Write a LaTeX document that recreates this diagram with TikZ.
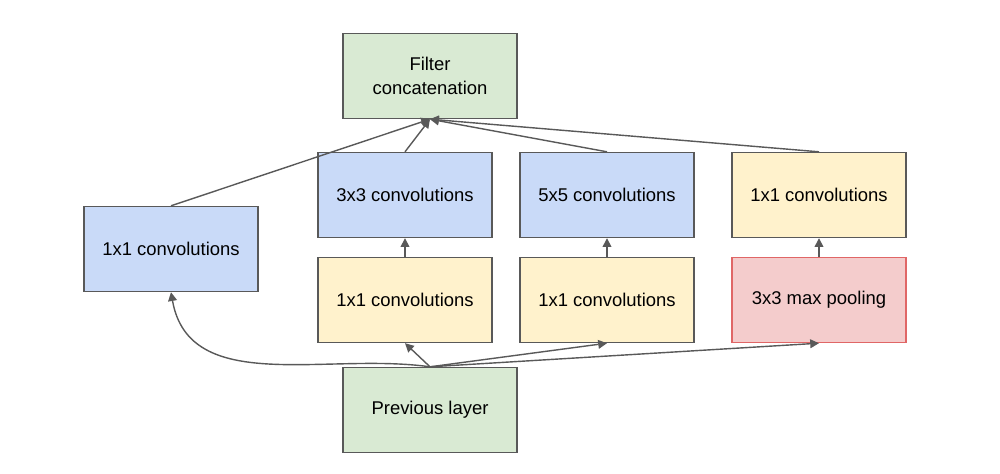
\documentclass[tikz,border=0pt]{standalone}
\usepackage{fontspec}
\setmainfont{Liberation Sans}
\usetikzlibrary{arrows.meta}
\definecolor{bgreen}{HTML}{D9EAD3}
\definecolor{bblue}{HTML}{C9DAF8}
\definecolor{byellow}{HTML}{FFF2CC}
\definecolor{bpink}{HTML}{F4CCCC}
\definecolor{bred}{HTML}{E06666}
\definecolor{edge}{HTML}{595959}
\begin{document}
\begin{tikzpicture}[x=0.02cm,y=-0.02cm,
  box/.style={draw=edge,line width=0.8pt,minimum width=3.48cm,minimum height=1.7cm,align=center,font=\fontsize{10.5}{14}\selectfont},
  arr/.style={draw=edge,line width=0.8pt,-{Triangle[length=5pt,width=5pt]}}]
\useasboundingbox (0,0) rectangle (1000,473);
\node[box,fill=bgreen] (fc) at (430,76) {Filter\\concatenation};
\node[box,fill=bblue] (l1) at (171,249) {1x1 convolutions};
\node[box,fill=bblue] (c3) at (405,195) {3x3 convolutions};
\node[box,fill=bblue] (c5) at (607,195) {5x5 convolutions};
\node[box,fill=byellow] (r1) at (819,195) {1x1 convolutions};
\node[box,fill=byellow] (m1) at (405,300) {1x1 convolutions};
\node[box,fill=byellow] (m2) at (607,300) {1x1 convolutions};
\node[box,fill=bpink,draw=bred] (mp) at (819,300) {3x3 max pooling};
\node[box,fill=bgreen] (pl) at (430,410) {Previous layer};
\coordinate (src) at (pl.north);
\coordinate (dst) at (fc.south);
\draw[arr] (src) to[out=172,in=-80] (l1.south);
\draw[arr] (src) -- (m1.south);
\draw[arr] (src) -- (m2.south);
\draw[arr] (src) -- (mp.south);
\draw[arr] (l1.north) -- (dst);
\draw[arr] (c3.north) -- (dst);
\draw[arr] (c5.north) -- (dst);
\draw[arr] (r1.north) -- (dst);
\draw[arr] (m1.north) -- (c3.south);
\draw[arr] (m2.north) -- (c5.south);
\draw[arr] (mp.north) -- (r1.south);
\end{tikzpicture}
\end{document}
